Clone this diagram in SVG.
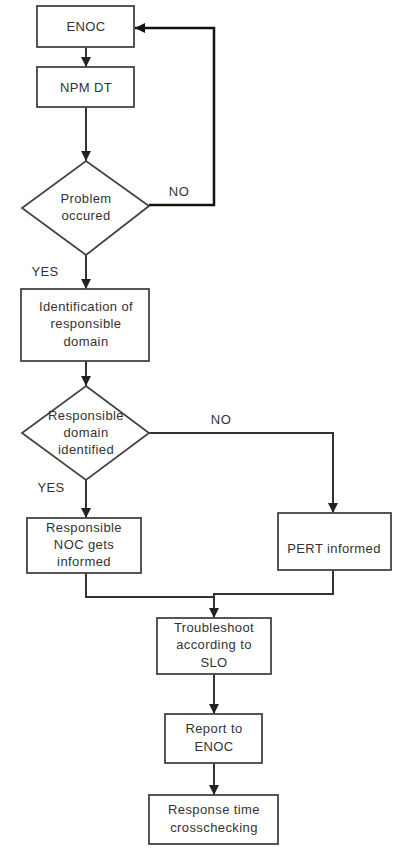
<svg xmlns="http://www.w3.org/2000/svg" width="409" height="853" viewBox="0 0 409 853">
<style>
.box{fill:#fff;stroke:#444;stroke-width:1.8}
.t{font-family:"Liberation Sans",Arial,sans-serif;font-size:13px;letter-spacing:0.4px;fill:#333;text-anchor:middle}
.c{fill:none;stroke:#333;stroke-width:2}
.fb{fill:none;stroke:#111;stroke-width:2.5}
</style>
<defs>
<marker id="ah" viewBox="0 0 10 10" refX="10" refY="5" markerWidth="5" markerHeight="5" orient="auto" markerUnits="strokeWidth">
<path d="M0,0 L10,5 L0,10 z" fill="#222"/>
</marker>
<marker id="ahb" viewBox="0 0 10 10" refX="10" refY="5" markerWidth="4" markerHeight="4" orient="auto" markerUnits="strokeWidth">
<path d="M0,0 L10,5 L0,10 z" fill="#111"/>
</marker>
</defs>
<rect width="409" height="853" fill="#fff"/>
<g id="connectors">
<path class="c" d="M86,47 V67" marker-end="url(#ah)"/>
<path class="c" d="M86,107 V161" marker-end="url(#ah)"/>
<path class="fb" d="M149,205 H214 V28 H135" marker-end="url(#ahb)"/>
<path class="c" d="M86,255 V289" marker-end="url(#ah)"/>
<path class="c" d="M86,361 V386" marker-end="url(#ah)"/>
<path class="c" d="M149,433 H333 V513" marker-end="url(#ah)"/>
<path class="c" d="M86,480 V518" marker-end="url(#ah)"/>
<path class="c" d="M86,573 V597 H214"/>
<path class="c" d="M333,570 V594 H214 V618" marker-end="url(#ah)"/>
<path class="c" d="M214,674 V714" marker-end="url(#ah)"/>
<path class="c" d="M214,763 V795" marker-end="url(#ah)"/>
<text class="t" x="179" y="196">NO</text>
<text class="t" x="45" y="276">YES</text>
<text class="t" x="221" y="424">NO</text>
<text class="t" x="51" y="492">YES</text>
</g>
<g id="enoc">
<rect class="box" x="37" y="6" width="97" height="41"/>
<text class="t" x="86" y="31">ENOC</text>
</g>
<g id="npmdt">
<rect class="box" x="37" y="67" width="97" height="40"/>
<text class="t" x="86" y="92">NPM DT</text>
</g>
<g id="problem">
<path class="box" d="M86,161 L149,206 L86,255 L22,208 Z"/>
<text class="t" x="86" y="203">Problem</text>
<text class="t" x="86" y="220">occured</text>
</g>
<g id="identification">
<rect class="box" x="21" y="289" width="128" height="72"/>
<text class="t" x="86" y="311">Identification of</text>
<text class="t" x="86" y="328">responsible</text>
<text class="t" x="86" y="346">domain</text>
</g>
<g id="identified">
<path class="box" d="M86,386 L149,433 L86,480 L22,433 Z"/>
<text class="t" x="86" y="420">Responsible</text>
<text class="t" x="86" y="437">domain</text>
<text class="t" x="86" y="454">identified</text>
</g>
<g id="noc">
<rect class="box" x="27" y="518" width="114" height="55"/>
<text class="t" x="84" y="532">Responsible</text>
<text class="t" x="84" y="549">NOC gets</text>
<text class="t" x="84" y="566">informed</text>
</g>
<g id="pert">
<rect class="box" x="278" y="513" width="113" height="57"/>
<text class="t" x="334" y="553">PERT informed</text>
</g>
<g id="troubleshoot">
<rect class="box" x="157" y="618" width="114" height="56"/>
<text class="t" x="214" y="632">Troubleshoot</text>
<text class="t" x="214" y="649">according to</text>
<text class="t" x="214" y="667">SLO</text>
</g>
<g id="report">
<rect class="box" x="165" y="714" width="97" height="49"/>
<text class="t" x="214" y="733">Report to</text>
<text class="t" x="214" y="751">ENOC</text>
</g>
<g id="response">
<rect class="box" x="149" y="795" width="129" height="49"/>
<text class="t" x="214" y="814">Response time</text>
<text class="t" x="214" y="832">crosschecking</text>
</g>
</svg>
